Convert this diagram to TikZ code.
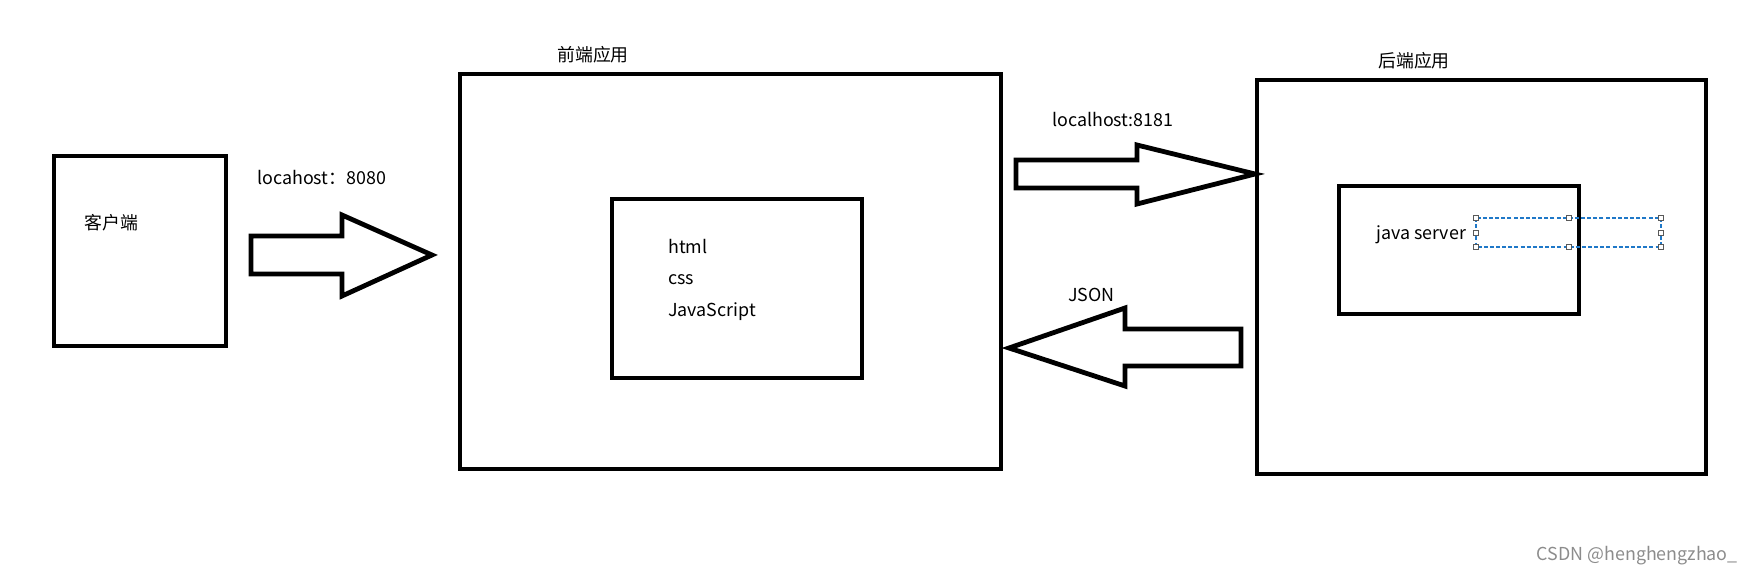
\documentclass[tikz,border=0pt]{standalone}
\usepackage{fontspec}
\setmainfont{Noto Sans CJK SC}
\begin{document}
\begin{tikzpicture}[x=0.75pt,y=-0.75pt,
  box/.style={draw=black,line width=3.6pt,line join=miter},
  blockarrow/.style={draw=black,line width=3.6pt,line join=miter,fill=white},
  lbl/.style={inner sep=0pt,font=\fontsize{13.4pt}{15pt}\selectfont},
  handle/.style={draw=black!65,fill=white,line width=0.6pt,minimum size=3.4pt,inner sep=0pt},
  selbox/.style={draw={rgb,255:red,31;green,120;blue,200},line width=0.9pt,dash pattern=on 3pt off 1.6pt}]
\useasboundingbox (0,0) rectangle (1754,581);
% boxes
\draw[box] (54,156) rectangle (226,346);
\draw[box] (460,74) rectangle (1001,469);
\draw[box] (612,199) rectangle (862,378);
\draw[box] (1257,80) rectangle (1706,474);
\draw[box] (1339,186) rectangle (1579,314);
% block arrows
\draw[blockarrow] (251,236) -- (342,236) -- (342,215) -- (432,255) -- (342,296) -- (342,274) -- (251,274) -- cycle;
\draw[blockarrow] (1016,160) -- (1137,160) -- (1137,145) -- (1255,174) -- (1137,204) -- (1137,188) -- (1016,188) -- cycle;
\draw[blockarrow] (1241,329) -- (1125,329) -- (1125,308) -- (1009,348) -- (1125,386) -- (1125,366) -- (1241,366) -- cycle;
% selection box
\draw[selbox] (1476,218) rectangle (1661,247);
\foreach \px/\py [count=\i] in {1476/218,1569/218,1661/218,1476/233,1661/233,1476/247,1569/247,1661/247}
  \node[handle] (h\i) at (\px,\py) {};
% labels
\node[lbl,anchor=west] (client) at (84,223) {客户端};
\node[lbl,anchor=west] (l8080) at (257,178) {locahost：8080};
\node[lbl,anchor=west] (l8181) at (1052,120) {localhost:8181};
\node[lbl,anchor=west] (json) at (1068,295) {JSON};
\node[lbl,anchor=west] (java) at (1376,235) {java server};
\node[lbl,anchor=west] (front) at (557,55) {前端应用};
\node[lbl,anchor=west] (back) at (1378,61) {后端应用};
\node[lbl,anchor=west] (html) at (668,247) {html};
\node[lbl,anchor=west] (css) at (668,280) {css};
\node[lbl,anchor=west] (js) at (668,312) {JavaScript};
\node[lbl,anchor=east,text=black!45] (csdn) at (1738,556) {CSDN @henghengzhao\_};
\end{tikzpicture}
\end{document}
